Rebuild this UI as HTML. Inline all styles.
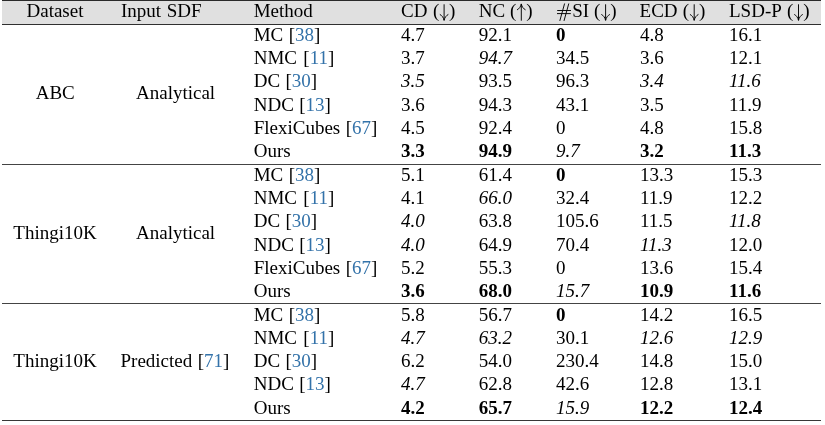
<!DOCTYPE html>
<html><head><meta charset="utf-8"><title>Table</title>
<style>
html,body{margin:0;padding:0;background:#fff;}
body{width:825px;height:425px;position:relative;overflow:hidden;font-family:"Liberation Serif",serif;font-size:19.0px;color:#000;}
.t{position:absolute;white-space:nowrap;word-spacing:0.7px;line-height:20px;height:20px;margin-top:-10px;}
.h{word-spacing:0.85px;}
#tx{position:absolute;left:0;top:0;width:825px;height:425px;will-change:transform;}
.b{font-weight:bold;}
.i{font-style:italic;}
.l{color:#3372a9;}
.sp{display:inline-block;width:9.9px;height:1px;}
#ov{position:absolute;left:0;top:0;}
.hbg{position:absolute;left:2px;top:1px;width:819px;height:23px;background:#e0e0e0;}
.r{position:absolute;left:1.5px;width:819.5px;background:#222;}
</style></head><body>
<div class="hbg"></div>
<div class="r" style="top:0;height:1px;background:#2a2a2a"></div>
<div class="r" style="top:24px;height:1px;background:#303030"></div>
<div class="r" style="top:164px;height:1px;background:#444"></div>
<div class="r" style="top:303px;height:1px;background:#444"></div>
<div class="r" style="top:420px;height:1px;background:#383838"></div>
<div id="tx">
<div class="t h" style="left:26.5px;top:11px">Dataset</div>
<div class="t h" style="left:121px;top:11px">Input SDF</div>
<div class="t h" style="left:253.7px;top:11px">Method</div>
<div class="t h" style="left:401px;top:11px">CD</div>
<div class="t h" style="left:478.7px;top:11px">NC</div>
<div class="t h" style="left:572.3px;top:11px">SI</div>
<div class="t h" style="left:639.6px;top:11px">ECD</div>
<div class="t h" style="left:729px;top:11px">LSD-P</div>
<div class="t h" style="left:432.9px;top:11px">(<span class="sp"></span>)</div>
<div class="t h" style="left:510.1px;top:11px">(<span class="sp"></span>)</div>
<div class="t h" style="left:594.0px;top:11px">(<span class="sp"></span>)</div>
<div class="t h" style="left:682.7px;top:11px">(<span class="sp"></span>)</div>
<div class="t h" style="left:787.1px;top:11px">(<span class="sp"></span>)</div>
<div class="t" style="left:253.7px;top:35.1px">MC [<span class="l">38</span>]</div>
<div class="t" style="left:401px;top:35.1px">4.7</div>
<div class="t" style="left:478.7px;top:35.1px">92.1</div>
<div class="t b" style="left:556px;top:35.1px">0</div>
<div class="t" style="left:640px;top:35.1px">4.8</div>
<div class="t" style="left:729px;top:35.1px">16.1</div>
<div class="t" style="left:253.7px;top:58.2px">NMC<span style="word-spacing:1.6px"> </span>[<span class="l">11</span>]</div>
<div class="t" style="left:401px;top:58.2px">3.7</div>
<div class="t i" style="left:478.7px;top:58.2px">94.7</div>
<div class="t" style="left:556px;top:58.2px">34.5</div>
<div class="t" style="left:640px;top:58.2px">3.6</div>
<div class="t" style="left:729px;top:58.2px">12.1</div>
<div class="t" style="left:253.7px;top:81.3px">DC [<span class="l">30</span>]</div>
<div class="t i" style="left:401px;top:81.3px">3.5</div>
<div class="t" style="left:478.7px;top:81.3px">93.5</div>
<div class="t" style="left:556px;top:81.3px">96.3</div>
<div class="t i" style="left:640px;top:81.3px">3.4</div>
<div class="t i" style="left:729px;top:81.3px">11.6</div>
<div class="t" style="left:253.7px;top:104.5px">NDC [<span class="l">13</span>]</div>
<div class="t" style="left:401px;top:104.5px">3.6</div>
<div class="t" style="left:478.7px;top:104.5px">94.3</div>
<div class="t" style="left:556px;top:104.5px">43.1</div>
<div class="t" style="left:640px;top:104.5px">3.5</div>
<div class="t" style="left:729px;top:104.5px">11.9</div>
<div class="t" style="left:253.7px;top:127.6px">FlexiCubes [<span class="l">67</span>]</div>
<div class="t" style="left:401px;top:127.6px">4.5</div>
<div class="t" style="left:478.7px;top:127.6px">92.4</div>
<div class="t" style="left:556px;top:127.6px">0</div>
<div class="t" style="left:640px;top:127.6px">4.8</div>
<div class="t" style="left:729px;top:127.6px">15.8</div>
<div class="t" style="left:253.7px;top:150.7px">Ours</div>
<div class="t b" style="left:401px;top:150.7px">3.3</div>
<div class="t b" style="left:478.7px;top:150.7px">94.9</div>
<div class="t i" style="left:556px;top:150.7px">9.7</div>
<div class="t b" style="left:640px;top:150.7px">3.2</div>
<div class="t b" style="left:729px;top:150.7px">11.3</div>
<div class="t" style="left:253.7px;top:175.1px">MC [<span class="l">38</span>]</div>
<div class="t" style="left:401px;top:175.1px">5.1</div>
<div class="t" style="left:478.7px;top:175.1px">61.4</div>
<div class="t b" style="left:556px;top:175.1px">0</div>
<div class="t" style="left:640px;top:175.1px">13.3</div>
<div class="t" style="left:729px;top:175.1px">15.3</div>
<div class="t" style="left:253.7px;top:198.2px">NMC<span style="word-spacing:1.6px"> </span>[<span class="l">11</span>]</div>
<div class="t" style="left:401px;top:198.2px">4.1</div>
<div class="t i" style="left:478.7px;top:198.2px">66.0</div>
<div class="t" style="left:556px;top:198.2px">32.4</div>
<div class="t" style="left:640px;top:198.2px">11.9</div>
<div class="t" style="left:729px;top:198.2px">12.2</div>
<div class="t" style="left:253.7px;top:221.3px">DC [<span class="l">30</span>]</div>
<div class="t i" style="left:401px;top:221.3px">4.0</div>
<div class="t" style="left:478.7px;top:221.3px">63.8</div>
<div class="t" style="left:556px;top:221.3px">105.6</div>
<div class="t" style="left:640px;top:221.3px">11.5</div>
<div class="t i" style="left:729px;top:221.3px">11.8</div>
<div class="t" style="left:253.7px;top:244.5px">NDC [<span class="l">13</span>]</div>
<div class="t i" style="left:401px;top:244.5px">4.0</div>
<div class="t" style="left:478.7px;top:244.5px">64.9</div>
<div class="t" style="left:556px;top:244.5px">70.4</div>
<div class="t i" style="left:640px;top:244.5px">11.3</div>
<div class="t" style="left:729px;top:244.5px">12.0</div>
<div class="t" style="left:253.7px;top:267.6px">FlexiCubes [<span class="l">67</span>]</div>
<div class="t" style="left:401px;top:267.6px">5.2</div>
<div class="t" style="left:478.7px;top:267.6px">55.3</div>
<div class="t" style="left:556px;top:267.6px">0</div>
<div class="t" style="left:640px;top:267.6px">13.6</div>
<div class="t" style="left:729px;top:267.6px">15.4</div>
<div class="t" style="left:253.7px;top:290.7px">Ours</div>
<div class="t b" style="left:401px;top:290.7px">3.6</div>
<div class="t b" style="left:478.7px;top:290.7px">68.0</div>
<div class="t i" style="left:556px;top:290.7px">15.7</div>
<div class="t b" style="left:640px;top:290.7px">10.9</div>
<div class="t b" style="left:729px;top:290.7px">11.6</div>
<div class="t" style="left:253.7px;top:314.7px">MC [<span class="l">38</span>]</div>
<div class="t" style="left:401px;top:314.7px">5.8</div>
<div class="t" style="left:478.7px;top:314.7px">56.7</div>
<div class="t b" style="left:556px;top:314.7px">0</div>
<div class="t" style="left:640px;top:314.7px">14.2</div>
<div class="t" style="left:729px;top:314.7px">16.5</div>
<div class="t" style="left:253.7px;top:337.8px">NMC<span style="word-spacing:1.6px"> </span>[<span class="l">11</span>]</div>
<div class="t i" style="left:401px;top:337.8px">4.7</div>
<div class="t i" style="left:478.7px;top:337.8px">63.2</div>
<div class="t" style="left:556px;top:337.8px">30.1</div>
<div class="t i" style="left:640px;top:337.8px">12.6</div>
<div class="t i" style="left:729px;top:337.8px">12.9</div>
<div class="t" style="left:253.7px;top:361.0px">DC [<span class="l">30</span>]</div>
<div class="t" style="left:401px;top:361.0px">6.2</div>
<div class="t" style="left:478.7px;top:361.0px">54.0</div>
<div class="t" style="left:556px;top:361.0px">230.4</div>
<div class="t" style="left:640px;top:361.0px">14.8</div>
<div class="t" style="left:729px;top:361.0px">15.0</div>
<div class="t" style="left:253.7px;top:384.3px">NDC [<span class="l">13</span>]</div>
<div class="t i" style="left:401px;top:384.3px">4.7</div>
<div class="t" style="left:478.7px;top:384.3px">62.8</div>
<div class="t" style="left:556px;top:384.3px">42.6</div>
<div class="t" style="left:640px;top:384.3px">12.8</div>
<div class="t" style="left:729px;top:384.3px">13.1</div>
<div class="t" style="left:253.7px;top:407.5px">Ours</div>
<div class="t b" style="left:401px;top:407.5px">4.2</div>
<div class="t b" style="left:478.7px;top:407.5px">65.7</div>
<div class="t i" style="left:556px;top:407.5px">15.9</div>
<div class="t b" style="left:640px;top:407.5px">12.2</div>
<div class="t b" style="left:729px;top:407.5px">12.4</div>
<div class="t" style="left:35.7px;top:92.9px">ABC</div>
<div class="t" style="left:136px;top:92.9px">Analytical</div>
<div class="t" style="left:13.3px;top:232.9px">Thingi10K</div>
<div class="t" style="left:136px;top:232.9px">Analytical</div>
<div class="t" style="left:13.3px;top:361.0px">Thingi10K</div>
<div class="t" style="left:120.5px;top:361.0px">Predicted [<span class="l">71</span>]</div>
<svg id="ov" width="825" height="425" viewBox="0 0 825 425"><path d="M444.1 4.3V20.2M439.85 14.4C441.95 15.5 443.55 17.6 444.1 20.4C444.65 17.6 446.25 15.5 448.35 14.4M521.3 20.7V4.1M517.05 9.9C519.15 8.8 520.75 6.7 521.3 3.9C521.85 6.7 523.45 8.8 525.55 9.9M605.6 4.3V20.2M601.35 14.4C603.45 15.5 605.05 17.6 605.6 20.4C606.15 17.6 607.75 15.5 609.85 14.4M694.2 4.3V20.2M689.95 14.4C692.05 15.5 693.65 17.6 694.2 20.4C694.75 17.6 696.35 15.5 698.45 14.4M798.5 4.3V20.2M794.25 14.4C796.35 15.5 797.95 17.6 798.5 20.4C799.05 17.6 800.65 15.5 802.75 14.4M564.6 3.5L559.8 20.9M568.8 3.5L564 20.9M557.2 10.5H571M557 13.6H570.8" fill="none" stroke="#000" stroke-width="0.95"/></svg>
</div>
</body></html>
